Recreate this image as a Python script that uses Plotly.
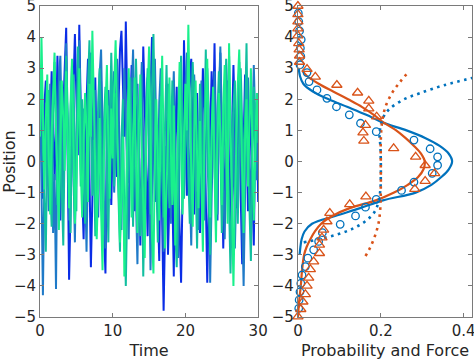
import plotly.graph_objects as go

# ---------------- data: time series (dt = 0.2) ----------------
time = [round(0.2 * i, 1) for i in range(151)]

traj_blue = [2.2, 0.5, -1.2, 1.8, 2.6, 0.3, -0.8, 1.1, 2.9, 1.5,
             -0.6, 0.9, 3.4, 1.2, -1.9, 0.4, 2.1, 3.0, 4.3, 1.0,
             -3.8, -1.5, 0.8, 2.4, 4.1, 2.0, 0.2, 4.4, 1.6, -1.0,
             -2.5, 0.6, 1.9, 3.3, -0.4, -3.4, -1.2, 1.4, 2.7, 0.1,
             -1.8, 1.2, 2.6, -0.9, -2.2, -3.6, 0.5, 2.3, 1.0, -1.4,
             0.7, 2.9, 1.3, -0.5, 1.8, 3.6, 4.2, 2.4, 0.8, 4.5,
             2.1, -0.7, 1.5, 3.1, 0.2, -1.6, 0.9, 2.5, -0.3, -2.7,
             0.4, 3.7, 1.9, -0.8, -2.4, 0.6, 2.8, 4.0, 1.1, -1.3,
             0.3, -2.0, -3.2, 1.0, -1.5, -4.8, -2.1, 0.5, -3.0, -1.2,
             1.6, -0.9, -3.7, 0.8, 2.4, -0.5, -2.6, -3.9, -1.0, 3.9,
             1.4, -1.1, 0.9, 2.7, 3.3, 0.6, -1.7, 1.3, 2.2, -0.4,
             -2.3, 0.8, 3.0, 1.5, -0.8, -3.9, -1.4, 0.7, 2.9, 1.1,
             3.8, 0.5, -1.9, 1.7, 3.5, 0.2, -2.8, -0.6, 1.4, 2.6,
             -0.2, -2.4, 0.9, 3.1, 1.2, -1.5, 0.4, 2.2, -1.1, -3.3,
             0.6, 2.8, 1.0, -1.6, 0.3, 2.0, -0.9, -2.7, 0.8, 1.9, -1.3]

traj_steel = [2.8, -1.5, -4.3, -0.6, 1.9, 0.4, -1.6, 2.5, 0.9, -2.3,
              -0.4, -4.1, 0.8, 2.7, 3.4, 1.0, -1.2, 2.2, 3.8, 0.6,
              -1.9, 1.5, 3.1, -0.3, -2.6, 0.9, 2.4, 3.9, 1.3, -0.8,
              1.7, -1.4, -2.9, 0.2, 2.0, 3.5, 1.1, -0.9, 2.3, -1.7,
              0.5, 2.8, 3.6, 0.7, -1.3, -2.8, 0.3, 1.8, -0.6, 2.6,
              1.2, -1.0, 0.6, 3.3, 2.0, -0.4, -2.2, 1.1, 3.0, 1.4,
              -0.8, -2.5, 0.7, 2.4, 3.6, 0.9, -1.5, -3.3, 0.2, 1.9,
              3.2, 0.5, -1.8, 1.4, 2.7, -0.3, -3.5, -1.0, 1.6, 3.3,
              0.8, -1.2, 1.9, 3.0, -0.2, -2.9, -1.1, 0.6, 2.5, 0.1,
              -2.0, 1.3, 2.9, 0.4, -1.6, -3.1, 0.7, 2.2, 1.0, -0.9,
              2.4, 3.5, 0.9, -1.4, -2.7, 0.5, 2.8, 1.6, -0.5, -2.2,
              1.0, 2.6, -0.1, -1.9, 0.8, 3.0, 1.7, -3.9, -1.2, 1.5,
              2.9, 0.4, -1.7, 2.1, 3.7, 1.2, -0.6, -2.5, 0.3, 2.0,
              3.4, 0.8, -1.3, 1.6, -2.8, -0.7, 1.9, 3.2, 0.5, -1.8,
              -4.0, -1.0, 1.4, 2.7, 0.2, -2.1, 0.9, 3.1, 1.3, -0.6, 2.2]

traj_teal = [1.2, 3.1, 0.4, -1.8, -2.9, 0.6, 2.3, -0.7, -2.1, 1.5,
             3.2, 1.0, -1.4, 0.3, 2.6, -0.9, -2.7, 0.8, 3.4, 1.7,
             -0.5, -2.3, 1.1, 2.8, 0.0, -1.6, 3.7, 1.4, -0.8, 2.0,
             0.5, -2.0, -0.3, 2.5, 3.9, 1.2, -1.1, 0.7, -2.4, -0.6,
             1.9, 3.0, 0.2, -1.7, 1.3, 2.4, -0.4, -2.6, 0.9, 3.5,
             1.6, -0.8, 2.2, 0.4, -1.5, -2.9, 0.7, 2.0, -1.9, -4.0,
             -1.3, 1.1, 2.7, 0.3, -2.1, 0.9, 3.3, 1.5, -0.6, -2.4,
             0.1, -3.7, -1.0, 1.8, 3.0, 0.6, -1.7, 2.3, 4.1, 1.4,
             -0.9, -2.6, 0.5, 2.1, -0.3, -1.8, 1.2, 3.1, 0.8, -1.5,
             0.4, 2.6, 1.0, -2.2, -3.4, -0.8, 1.7, 3.4, 0.9, -1.2,
             0.6, 2.3, -0.5, -2.0, 1.4, 3.2, 1.8, -0.7, -2.8, 0.2,
             2.5, 0.9, -1.6, 1.1, 3.6, 0.4, -1.4, -3.0, 0.7, 2.2,
             0.0, -1.9, 1.5, 2.9, 0.6, -2.3, -0.4, 1.6, 3.3, 0.8,
             -1.6, -3.6, -0.9, 1.8, 2.6, -0.2, -2.0, 0.9, 3.0, 1.2,
             -0.7, 1.5, 3.8, 0.3, -1.9, -3.2, 0.4, 2.4, -0.3, 1.7, 0.6]

traj_green = [0.8, 4.0, 1.6, -0.9, 1.3, 2.8, 0.2, -1.7, 0.9, 2.4,
              3.5, 1.1, -0.6, -2.2, 0.5, 2.6, 1.4, -0.3, 2.9, 0.7,
              -1.5, 1.8, 3.3, 0.4, -2.0, -0.5, 1.6, 3.0, -0.2, -1.8,
              0.6, 2.2, 1.0, -1.3, 2.5, 0.8, 4.2, 1.9, -0.4, -2.5,
              -0.8, 1.4, -1.6, -3.5, 0.3, 2.0, 3.1, 0.5, -1.2, 1.7,
              0.1, 2.4, 3.9, 1.3, -0.9, -2.6, -1.0, 0.8, -3.7, -1.1,
              1.4, 3.0, 0.6, -1.8, 0.9, 2.7, -0.1, -2.3, 1.2, 2.8,
              0.3, -1.6, -3.1, 0.7, 2.3, 3.7, 0.9, -2.4, -3.6, 0.2,
              2.0, -0.5, -1.9, 1.3, 3.4, 0.6, -2.8, -1.0, 1.5, 2.7,
              0.3, -1.4, 1.8, -2.7, -0.6, 1.1, 3.2, 0.4, -1.7, 0.8,
              2.5, 1.0, 4.4, 1.7, -0.4, -2.1, 0.9, 2.6, 0.2, -1.5,
              1.3, -0.9, -2.9, 0.5, 2.1, 3.3, 0.7, -1.8, 1.0, 2.4,
              -0.3, -2.6, 0.6, 2.2, 0.9, -1.4, 1.8, 3.1, 0.4, -2.0,
              3.8, 1.2, -1.5, -4.0, -1.3, 0.8, 2.5, 3.6, 1.4, -0.5,
              -2.3, 0.7, 2.0, -0.8, 1.5, 3.0, 0.6, -1.9, 0.3, 2.2, 1.0]

traj_colors = ["#0a2de6", "#1f7ac8", "#12bfa0", "#19f08c"]

# ---------------- data: probability / force panel ----------------
circ_pos = [4.77, 4.5, 4.2, 3.92, 3.65, 3.38, 3.11, 2.86, 2.57, 2.30, 2.03, 1.76,
            1.50, 1.23, 0.96, 0.69, 0.41, 0.15, -0.12, -0.38, -0.66, -0.93, -1.22,
            -1.47, -1.75, -2.02, -2.29, -2.57, -2.84, -3.11, -3.38, -3.65, -3.92,
            -4.19, -4.45, -4.72]
circ_prob = [0.001, 0.002, 0.004, 0.008, 0.006, 0.007, 0.005, 0.022, 0.027, 0.046,
             0.070, 0.093, 0.124, 0.151, 0.189, 0.280, 0.319, 0.337, 0.337, 0.324,
             0.280, 0.250, 0.189, 0.163, 0.139, 0.102, 0.059, 0.050, 0.038, 0.024,
             0.018, 0.010, 0.007, 0.005, 0.003, 0.002]

tri_pos = [5.0, 4.73, 4.5, 4.27, 4.05, 3.8, 3.6, 3.4, 3.2, 2.97, 2.72, 2.46, 2.21,
           1.95, 1.7, 1.44, 1.17, 0.93, 0.66, 0.42, 0.15, -0.12, -0.38, -0.63, -0.89,
           -1.13, -1.38, -1.66, -1.93, -2.2, -2.45, -2.68, -2.95, -3.22, -3.47, -3.74,
           -4.0, -4.27, -4.51, -4.75, -4.99]
tri_prob = [0.0, 0.0, 0.0, 0.0, 0.0, 0.002, 0.003, 0.004, 0.004, 0.022, 0.042, 0.094,
            0.144, 0.171, 0.171, 0.190, 0.163, 0.157, 0.159, 0.231, 0.284, 0.307,
            0.330, 0.307, 0.282, 0.164, 0.125, 0.077, 0.070, 0.062, 0.058, 0.052,
            0.052, 0.038, 0.030, 0.026, 0.022, 0.018, 0.012, 0.007, 0.0]

blue_fit_pos = [3.0, 2.75, 2.5, 2.25, 2.0, 1.75, 1.5, 1.25, 1.0, 0.75, 0.5, 0.25, 0.0,
                -0.25, -0.5, -0.75, -1.0, -1.25, -1.5, -1.75, -2.0, -2.25, -2.5, -2.75, -3.0]
blue_fit_prob = [0.002, 0.005, 0.013, 0.036, 0.074, 0.120, 0.165, 0.205, 0.262, 0.308,
                 0.342, 0.364, 0.372, 0.364, 0.346, 0.322, 0.284, 0.205, 0.150, 0.090,
                 0.034, 0.016, 0.009, 0.006, 0.004]

orange_fit_pos = [2.9, 2.75, 2.5, 2.25, 2.0, 1.75, 1.5, 1.25, 1.0, 0.75, 0.5, 0.25, 0.0,
                  -0.25, -0.5, -0.75, -1.0, -1.25, -1.5, -1.75, -2.0, -2.25, -2.5, -2.75,
                  -3.0, -3.5, -4.0, -4.5, -5.0]
orange_fit_prob = [0.012, 0.022, 0.050, 0.085, 0.121, 0.155, 0.183, 0.207, 0.237, 0.260,
                   0.280, 0.297, 0.306, 0.303, 0.290, 0.265, 0.232, 0.188, 0.125, 0.083,
                   0.056, 0.041, 0.030, 0.021, 0.015, 0.010, 0.007, 0.003, 0.0]

blue_force_pos = [-2.6, -2.5, -2.35, -2.15, -1.9, -1.6, -1.25, -0.9, -0.5, 0.0, 0.5,
                  0.8, 1.1, 1.45, 1.7, 2.0, 2.2, 2.45, 2.7]
blue_force = [0.014, 0.050, 0.094, 0.134, 0.165, 0.186, 0.195, 0.199, 0.200, 0.200,
              0.199, 0.197, 0.199, 0.207, 0.222, 0.256, 0.295, 0.352, 0.425]

orange_force_pos = [-3.04, -2.75, -2.35, -1.95, -1.45, -0.9, 0.0, 0.7, 1.25, 1.75,
                    2.2, 2.55, 2.9]
orange_force = [0.163, 0.175, 0.187, 0.195, 0.199, 0.200, 0.200, 0.200, 0.203, 0.211,
                0.227, 0.246, 0.268]

x_ticks_right = [0, 0.2, 0.4]
x_ticks_right_text = ["0", "0.2", "0.4"]
y_ticks = [-5, -4, -3, -2, -1, 0, 1, 2, 3, 4, 5]

BLUE = "#0072BD"
ORANGE = "#D95319"

fig = go.Figure()
for ys, c in zip([traj_blue, traj_steel, traj_teal, traj_green], traj_colors):
    fig.add_trace(go.Scatter(x=time, y=ys, mode="lines", line=dict(color=c, width=2),
                             xaxis="x", yaxis="y", showlegend=False))

fig.add_trace(go.Scatter(x=blue_fit_prob, y=blue_fit_pos, mode="lines",
                         line=dict(color=BLUE, width=2.2, shape="spline"),
                         xaxis="x2", yaxis="y2", showlegend=False))
fig.add_trace(go.Scatter(x=orange_fit_prob, y=orange_fit_pos, mode="lines",
                         line=dict(color=ORANGE, width=2.2, shape="spline"),
                         xaxis="x2", yaxis="y2", showlegend=False))
fig.add_trace(go.Scatter(x=blue_force, y=blue_force_pos, mode="lines",
                         line=dict(color=BLUE, width=2.6, dash="2.6px,4.4px", shape="spline"),
                         xaxis="x2", yaxis="y2", showlegend=False))
fig.add_trace(go.Scatter(x=orange_force, y=orange_force_pos, mode="lines",
                         line=dict(color=ORANGE, width=2.6, dash="2.6px,4.4px", shape="spline"),
                         xaxis="x2", yaxis="y2", showlegend=False))
fig.add_trace(go.Scatter(x=circ_prob, y=circ_pos, mode="markers", cliponaxis=False,
                         marker=dict(symbol="circle-open", size=7.5, color=BLUE,
                                     line=dict(width=1.3, color=BLUE)),
                         xaxis="x2", yaxis="y2", showlegend=False))
fig.add_trace(go.Scatter(x=tri_prob, y=tri_pos, mode="markers", cliponaxis=False,
                         marker=dict(symbol="triangle-up-open", size=9, color=ORANGE,
                                     line=dict(width=1.3, color=ORANGE)),
                         xaxis="x2", yaxis="y2", showlegend=False))

FONT = "DejaVu Sans"
TXT = "#262626"
LINE = "#7a7a7a"
common = dict(showline=True, linecolor=LINE, linewidth=1, mirror="ticks", ticks="inside",
              ticklen=4, tickcolor=LINE, showgrid=False, zeroline=False, automargin=False,
              ticklabeloverflow="allow",
              tickfont=dict(family=FONT, size=15, color=TXT))

fig.update_layout(
    width=474, height=360,
    margin=dict(l=40, r=2, t=6, b=43),
    paper_bgcolor="white", plot_bgcolor="white",
    xaxis=dict(domain=[0, 0.505], range=[0, 30], tickvals=[0, 10, 20, 30],
               title=dict(text="Time", font=dict(family=FONT, size=16, color=TXT), standoff=6),
               anchor="y", **common),
    yaxis=dict(range=[-5, 5], tickvals=y_ticks,
               title=dict(text="Position", font=dict(family=FONT, size=16, color=TXT), standoff=1),
               anchor="x", **common),
    xaxis2=dict(domain=[0.597, 1], range=[0, 0.42], tickvals=x_ticks_right,
                ticktext=x_ticks_right_text,
                title=dict(text="Probability and Force", font=dict(family=FONT, size=16, color=TXT), standoff=6),
                anchor="y2", **common),
    yaxis2=dict(range=[-5, 5], tickvals=y_ticks, anchor="x2", **common),
)

fig.write_html("out.html", config={"displayModeBar": False},
               post_script="document.body.style.margin='0';document.body.style.padding='0';")
